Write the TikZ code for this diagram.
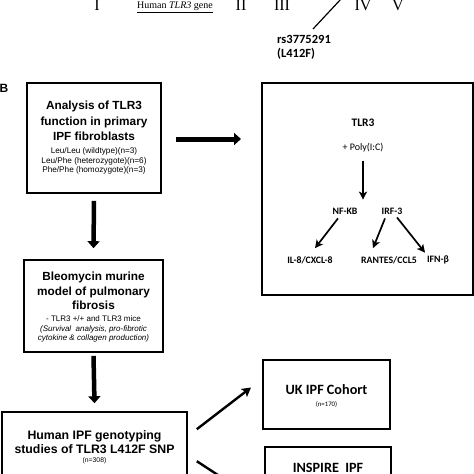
\documentclass[tikz,border=0pt]{standalone}
\usepackage{fontspec}
\setmainfont{Liberation Sans}
\newfontfamily\calfont{Carlito}
\newfontfamily\tmsfont{Liberation Serif}
\usetikzlibrary{arrows.meta,calc}
\begin{document}
\begin{tikzpicture}[x=1pt,y=-1pt,
  box/.style={draw, line width=1.6pt, inner sep=0pt},
  rbox/.style={draw, line width=2pt, inner sep=0pt},
  fatarrow/.style={line width=4.5pt, -{Triangle[length=7pt,width=12pt]}},
  diagarrow/.style={line width=2.4pt, -{Stealth[length=9pt,width=10pt,inset=2pt]}},
  innerarrow/.style={line width=1.7pt, -{Stealth[length=8pt,width=8pt,inset=2pt]}},
  ttl/.style={font=\bfseries\fontsize{11.8}{15.5}\selectfont, align=center, inner sep=0pt},
  sml/.style={font=\fontsize{8.2}{9.6}\selectfont, align=center, inner sep=0pt},
  cal/.style={font=\calfont\bfseries\fontsize{9.8}{12}\selectfont, inner sep=0pt},
  roman/.style={font=\tmsfont\fontsize{16}{16}\selectfont, anchor=base, inner sep=0pt}]
\useasboundingbox[fill=white] (0,0) rectangle (474,474);

% ---- top part (A) ----
\node[roman] (r1) at (97,10) {I};
\node[font=\tmsfont\fontsize{10}{12}\selectfont, anchor=base, inner sep=0pt] (gene) at (175,8.5) {\underline{Human \textit{TLR3} gene}};
\node[roman] (r2) at (241,10) {II};
\node[roman] (r3) at (282,10) {III};
\node[roman] (r4) at (363,10) {IV};
\node[roman] (r5) at (398,10) {V};
\node[font=\calfont\bfseries\fontsize{12.5}{14.5}\selectfont, align=left, anchor=north west, inner sep=0pt] (rs) at (277,35) {rs3775291\\(L412F)};
\coordinate (snp) at (341,-1);
\draw[line width=1.2pt] (snp) -- ($(rs.north west)+(36,-6)$);

% ---- B ----
\node[font=\bfseries\fontsize{12}{14}\selectfont, inner sep=0pt] (B) at (4,88) {B};

% box 1
\node[box, minimum width=134pt, minimum height=110pt] (box1) at (94,138) {};
\node[ttl] (t1) at (94,121) {Analysis of TLR3\\function in primary\\IPF fibroblasts};
\node[sml] (s1) at (94,161) {Leu/Leu (wildtype)(n=3)\\Leu/Phe (heterozygote)(n=6)\\Phe/Phe (homozygote)(n=3)};

% box 2
\node[box, minimum width=139pt, minimum height=92pt] (box2) at (93.5,306) {};
\node[ttl, font=\bfseries\fontsize{11.8}{14.5}\selectfont] (t2) at (93.5,291) {Bleomycin murine\\model of pulmonary\\fibrosis};
\node[sml, font=\fontsize{8}{9.5}\selectfont] (s2) at (93.5,329) {- TLR3 +/+ and TLR3 mice\\\textit{(Survival\ \ analysis, pro-fibrotic}\\\textit{cytokine \& collagen production)}};

% box 3
\node[box, minimum width=185pt, minimum height=100pt] (box3) at (94.5,462) {};
\node[ttl, font=\bfseries\fontsize{12.3}{14}\selectfont] (t3) at (94.5,442) {Human IPF genotyping\\studies of TLR3 L412F SNP};
\node[sml, font=\fontsize{6.8}{8}\selectfont] (s3) at (94.5,461) {(n=308)};

% right box
\node[rbox, minimum width=211pt, minimum height=212pt] (rbox) at (367.5,189) {};
\node[cal, font=\calfont\bfseries\fontsize{11.5}{13}\selectfont] (tlr) at (363,123) {TLR3};
\node[cal, font=\calfont\fontsize{10}{12}\selectfont] (poly) at (363,148) {+ Poly(I:C)};
\node[cal] (nfkb) at (345,211) {NF-KB};
\node[cal] (irf) at (392,211) {IRF-3};
\node[cal] (il8) at (310,260) {IL-8/CXCL-8};
\node[cal] (rantes) at (389,260) {RANTES/CCL5};
\node[cal] (ifn) at (438,260) {IFN-β};

\draw[innerarrow] ($(poly.south)+(0,8)$) -- ($(poly.south)+(0,47)$);
\draw[innerarrow] ($(nfkb.south)+(-7,4)$) -- ($(il8.north)+(5,-8)$);
\draw[innerarrow] ($(irf.south)+(-7,4)$) -- ($(rantes.north)+(-16,-8)$);
\draw[innerarrow] ($(irf.south)+(5,3)$) -- ($(ifn.north)+(-13,-3)$);

% UK and INSPIRE
\node[rbox, minimum width=127pt, minimum height=69pt] (uk) at (326.5,394.5) {};
\node[font=\calfont\bfseries\fontsize{14.2}{16}\selectfont, inner sep=0pt] (ukt) at (326.5,390) {UK IPF Cohort};
\node[font=\calfont\fontsize{6.8}{8}\selectfont, inner sep=0pt] (uks) at (326.5,404) {(n=170)};
\node[rbox, minimum width=126pt, minimum height=80pt] (insp) at (328,487) {};
\node[font=\calfont\bfseries\fontsize{14.2}{16}\selectfont, inner sep=0pt] (inspt) at (328,468) {INSPIRE\ \ IPF};

% connectors
\draw[fatarrow, line width=5pt] ($(box1.east)+(14,1)$) -- ($(box1.east -| rbox.west)+(-20,1)$);
\draw[fatarrow] ($(box1.south)+(0,7)$) -- ($(box2.north)+(0,-11)$);
\draw[fatarrow] ($(box2.south)+(0,3)$) -- ($(box3.north)+(0,-8)$);
\draw[diagarrow] ($(box3.north east)+(9,18)$) -- ($(uk.west)+(-11,-7)$);
\draw[diagarrow] ($(box3.north east)+(9,50)$) -- ($(insp.west)+(-14,9)$);
\end{tikzpicture}
\end{document}
